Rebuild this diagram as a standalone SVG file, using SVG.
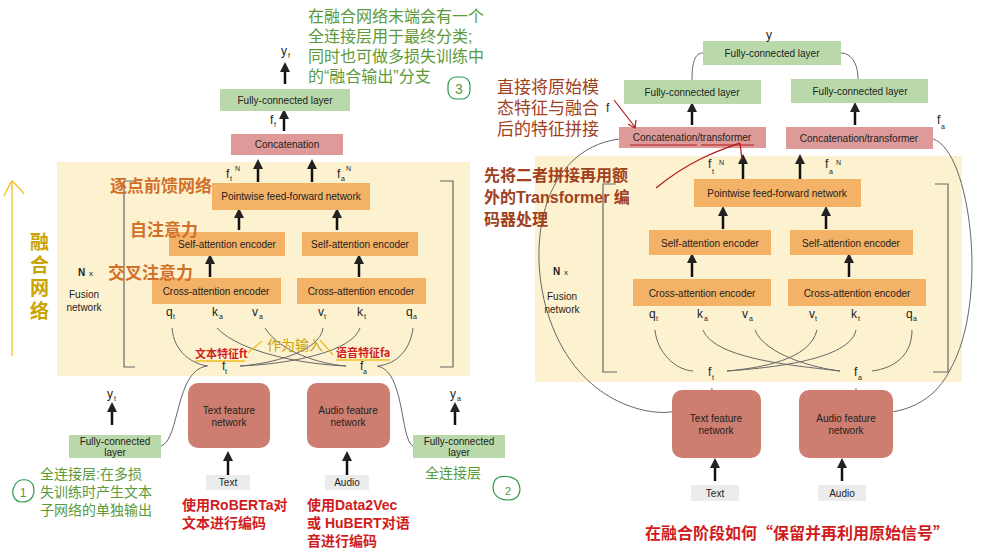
<svg xmlns="http://www.w3.org/2000/svg" width="1001" height="556" viewBox="0 0 1001 556">
<defs>
<marker id="ah" viewBox="0 0 6 6" refX="3" refY="3" markerWidth="4" markerHeight="4" orient="auto"><path d="M0,0L6,3L0,6z" fill="#222"/></marker>
<style>
text{font-family:"Liberation Sans","Noto Sans CJK SC",sans-serif;}
.lb{font-size:10px;fill:#222;text-anchor:middle}
.sm{font-size:12px;fill:#222}
.sub{font-size:7px;fill:#222}
.g{fill:#b9d9aa}.p{fill:#de9a98}.o{fill:#f4b266}.r{fill:#cd7e70}.gr{fill:#ececec}
.bg{fill:#fdf2d0}
.ar{stroke:#111;stroke-width:2.5;marker-end:url(#ah)}
.cv{fill:none;stroke:#666;stroke-width:1}
.br{fill:none;stroke:#666;stroke-width:1.2}
.cn{font-size:15px;font-family:"Noto Sans CJK SC",sans-serif}
.gn{fill:#5a9a3a}.org{fill:#d2702a}.yl{fill:#c9a400}.rd{fill:#d01c1c}.bn{fill:#a0401c}
</style>
</defs>
<rect width="1001" height="556" fill="#fff"/>
<rect class="bg" x="57" y="162" width="413" height="214"/>
<rect class="bg" x="535" y="156" width="427" height="226"/>

<g id="connectors">
<line class="ar" x1="285" y1="84" x2="285" y2="67"/>
<line class="ar" x1="284" y1="131" x2="284" y2="114"/>
<line class="ar" x1="258" y1="182" x2="258" y2="164"/>
<line class="ar" x1="312" y1="182" x2="312" y2="164"/>
<line class="ar" x1="239" y1="230" x2="239" y2="213"/>
<line class="ar" x1="337" y1="230" x2="337" y2="213"/>
<line class="ar" x1="210" y1="277" x2="210" y2="259"/>
<line class="ar" x1="359" y1="277" x2="359" y2="259"/>
<line class="ar" x1="228" y1="477" x2="228" y2="456"/>
<line class="ar" x1="347" y1="477" x2="347" y2="456"/>
<line class="ar" x1="112" y1="425" x2="112" y2="407"/>
<line class="ar" x1="455" y1="425" x2="455" y2="407"/>
<path class="cv" d="M172,328 C174,352 192,364 208,366"/>
<path class="cv" d="M217,328 C240,352 300,364 346,366"/>
<path class="cv" d="M265,328 C280,352 320,364 346,366"/>
<path class="cv" d="M323,328 C320,352 270,364 240,366"/>
<path class="cv" d="M360,328 C352,352 290,364 240,366"/>
<path class="cv" d="M413,328 C410,352 395,364 378,366"/>
<path class="cv" d="M207,366 C175,370 180,440 161,446"/>
<path class="cv" d="M377,366 C405,370 400,440 413,446"/>
<path class="br" d="M135,181 H124 V367 H135"/>
<path class="br" d="M440,181 H453 V367 H440"/>

<path class="cv" d="M703,53 C695,53 692,62 692,80"/>
<path class="cv" d="M841,53 C850,53 858,62 858,79"/>
<line class="ar" x1="692" y1="125" x2="692" y2="107"/>
<line class="ar" x1="855" y1="125" x2="855" y2="107"/>
<line class="ar" x1="743" y1="180" x2="743" y2="159"/>
<line class="ar" x1="800" y1="180" x2="800" y2="159"/>
<line class="ar" x1="723" y1="229" x2="723" y2="211"/>
<line class="ar" x1="826" y1="229" x2="826" y2="211"/>
<line class="ar" x1="692" y1="277" x2="692" y2="258"/>
<line class="ar" x1="849" y1="277" x2="849" y2="258"/>
<line class="ar" x1="715" y1="481" x2="715" y2="463"/>
<line class="ar" x1="842" y1="481" x2="842" y2="463"/>
<path class="cv" d="M655,330 C657,352 675,370 693,371"/>
<path class="cv" d="M703,330 C715,360 800,366 840,371"/>
<path class="cv" d="M755,330 C765,355 815,368 840,371"/>
<path class="cv" d="M817,330 C810,360 760,368 727,371"/>
<path class="cv" d="M856,330 C850,360 770,368 727,371"/>
<path class="cv" d="M912,330 C912,355 895,368 872,371"/>
<path class="cv" d="M619,139 C540,150 525,250 550,320 C580,405 650,415 670,412 C700,410 712,395 712,388"/>
<path class="cv" d="M933,139 C970,150 990,300 950,370 C930,410 890,415 870,412 C855,405 856,395 856,388"/>
<path class="br" d="M616,184 H603 V372 H617"/>
<path class="br" d="M935,184 H948 V372 H933"/>
</g>

<g id="left-nodes">
<g id="fc-top"><rect class="g" x="220" y="89" width="130" height="22"/><text class="lb" x="285" y="104">Fully-connected layer</text></g>
<g id="concat"><rect class="p" x="231" y="134" width="112" height="21"/><text class="lb" x="287" y="148">Concatenation</text></g>
<g id="pw"><rect class="o" x="212" y="183" width="158" height="27"/><text class="lb" x="291" y="200">Pointwise feed-forward network</text></g>
<g id="sa1"><rect class="o" x="169" y="232" width="116" height="24"/><text class="lb" x="227" y="248">Self-attention encoder</text></g>
<g id="sa2"><rect class="o" x="302" y="232" width="116" height="24"/><text class="lb" x="360" y="248">Self-attention encoder</text></g>
<g id="ca1"><rect class="o" x="152" y="278" width="129" height="26"/><text class="lb" x="216" y="295">Cross-attention encoder</text></g>
<g id="ca2"><rect class="o" x="297" y="278" width="129" height="26"/><text class="lb" x="361" y="295">Cross-attention encoder</text></g>
<g id="tfn"><rect class="r" x="188" y="383" width="82" height="65" rx="10"/><text class="lb" x="229" y="414">Text feature</text><text class="lb" x="229" y="426">network</text></g>
<g id="afn"><rect class="r" x="307" y="383" width="83" height="65" rx="10"/><text class="lb" x="348" y="414">Audio feature</text><text class="lb" x="348" y="426">network</text></g>
<g id="txt"><rect class="gr" x="206" y="475" width="44" height="15"/><text class="lb" x="228" y="486">Text</text></g>
<g id="aud"><rect class="gr" x="325" y="475" width="44" height="15"/><text class="lb" x="347" y="486">Audio</text></g>
<g id="fcl"><rect class="g" x="69" y="435" width="92" height="23"/><text class="lb" x="115" y="445">Fully-connected</text><text class="lb" x="115" y="456">layer</text></g>
<g id="fcr"><rect class="g" x="413" y="435" width="92" height="23"/><text class="lb" x="459" y="445">Fully-connected</text><text class="lb" x="459" y="456">layer</text></g>
</g>
<g id="left-labels">
<text class="sm" x="281" y="55">y</text><text class="sub" x="288" y="58">f</text>
<text class="sm" x="270" y="124">f</text><text class="sub" x="274" y="127">f</text>
<text class="sm" x="226" y="178">f</text><text class="sub" x="230" y="181">t</text><text class="sub" x="235" y="171">N</text>
<text class="sm" x="337" y="178">f</text><text class="sub" x="341" y="181">a</text><text class="sub" x="346" y="171">N</text>
<text class="sm" x="166" y="316">q</text><text class="sub" x="173" y="319">t</text>
<text class="sm" x="212" y="316">k</text><text class="sub" x="219" y="319">a</text>
<text class="sm" x="252" y="316">v</text><text class="sub" x="259" y="319">a</text>
<text class="sm" x="318" y="316">v</text><text class="sub" x="324" y="319">t</text>
<text class="sm" x="357" y="316">k</text><text class="sub" x="364" y="319">t</text>
<text class="sm" x="406" y="316">q</text><text class="sub" x="413" y="319">a</text>
<text class="sm" x="222" y="370">f</text><text class="sub" x="225" y="374">t</text>
<text class="sm" x="360" y="370">f</text><text class="sub" x="363" y="374">a</text>
<text class="sm" x="107" y="398">y</text><text class="sub" x="114" y="401">t</text>
<text class="sm" x="450" y="398">y</text><text class="sub" x="457" y="401">a</text>
<text x="78" y="276" style="font-size:10px;font-weight:bold;fill:#222">N</text><text x="89" y="276" style="font-size:8px;fill:#222">x</text>
<text class="lb" x="84" y="298">Fusion</text><text class="lb" x="84" y="311">network</text>
</g>

<g id="right-nodes">
<g id="r-fc"><rect class="g" x="703" y="41" width="138" height="24"/><text class="lb" x="772" y="57">Fully-connected layer</text></g>
<g id="r-fcl"><rect class="g" x="624" y="80" width="137" height="24"/><text class="lb" x="692" y="96">Fully-connected layer</text></g>
<g id="r-fcr"><rect class="g" x="791" y="79" width="137" height="24"/><text class="lb" x="860" y="95">Fully-connected layer</text></g>
<g id="r-cl"><rect class="p" x="619" y="127" width="147" height="21"/><text class="lb" x="692" y="141">Concatenation/transformer</text></g>
<g id="r-cr"><rect class="p" x="786" y="127" width="147" height="22"/><text class="lb" x="859" y="142">Concatenation/transformer</text></g>
<g id="r-pw"><rect class="o" x="694" y="179" width="167" height="28"/><text class="lb" x="777" y="197">Pointwise feed-forward network</text></g>
<g id="r-sa1"><rect class="o" x="649" y="230" width="122" height="25"/><text class="lb" x="710" y="247">Self-attention encoder</text></g>
<g id="r-sa2"><rect class="o" x="790" y="230" width="123" height="25"/><text class="lb" x="851" y="247">Self-attention encoder</text></g>
<g id="r-ca1"><rect class="o" x="633" y="279" width="138" height="27"/><text class="lb" x="702" y="297">Cross-attention encoder</text></g>
<g id="r-ca2"><rect class="o" x="788" y="279" width="138" height="27"/><text class="lb" x="857" y="297">Cross-attention encoder</text></g>
<g id="r-tfn"><rect class="r" x="672" y="390" width="89" height="68" rx="10"/><text class="lb" x="716" y="422">Text feature</text><text class="lb" x="716" y="434">network</text></g>
<g id="r-afn"><rect class="r" x="799" y="390" width="94" height="68" rx="10"/><text class="lb" x="846" y="422">Audio feature</text><text class="lb" x="846" y="434">network</text></g>
<g id="r-txt"><rect class="gr" x="691" y="485" width="48" height="16"/><text class="lb" x="715" y="497">Text</text></g>
<g id="r-aud"><rect class="gr" x="818" y="485" width="48" height="16"/><text class="lb" x="842" y="497">Audio</text></g>
</g>
<g id="right-labels">
<text class="sm" x="766" y="39">y</text>
<text class="sm" x="937" y="124">f</text><text class="sub" x="941" y="129">a</text>
<text class="sm" x="606" y="112">f</text>
<text class="sm" x="708" y="168">f</text><text class="sub" x="712" y="174">t</text><text class="sub" x="719" y="165">N</text>
<text class="sm" x="825" y="168">f</text><text class="sub" x="829" y="174">a</text><text class="sub" x="836" y="165">N</text>
<text class="sm" x="649" y="318">q</text><text class="sub" x="656" y="321">t</text>
<text class="sm" x="697" y="318">k</text><text class="sub" x="704" y="321">a</text>
<text class="sm" x="742" y="318">v</text><text class="sub" x="749" y="321">a</text>
<text class="sm" x="809" y="318">v</text><text class="sub" x="815" y="321">t</text>
<text class="sm" x="851" y="318">k</text><text class="sub" x="858" y="321">t</text>
<text class="sm" x="906" y="318">q</text><text class="sub" x="913" y="321">a</text>
<text class="sm" x="708" y="376">f</text><text class="sub" x="712" y="380">t</text>
<text class="sm" x="854" y="376">f</text><text class="sub" x="858" y="380">a</text>
<text x="553" y="275" style="font-size:10px;font-weight:bold;fill:#222">N</text><text x="564" y="275" style="font-size:8px;fill:#222">x</text>
<text class="lb" x="562" y="300">Fusion</text><text class="lb" x="562" y="313">network</text>
</g>

<g id="annotations">
<g class="cn gn" style="font-size:16px">
<text x="308" y="22">在融合网络末端会有一个</text>
<text x="308" y="42">全连接层用于最终分类;</text>
<text x="308" y="62">同时也可做多损失训练中</text>
<text x="308" y="82">的“融合输出”分支</text>
</g>
<rect x="448" y="77" width="22" height="22" rx="8" fill="none" stroke="#2a9a4a" stroke-width="1.2"/>
<text x="459" y="94" class="gn" style="font-size:14px;text-anchor:middle">3</text>
<g class="cn org" style="font-size:17px;font-weight:bold">
<text x="110" y="192">逐点前馈网络</text>
<text x="130" y="236">自注意力</text>
<text x="108" y="279">交叉注意力</text>
</g>
<g class="cn yl" style="font-size:19px;font-weight:bold">
<text x="30" y="249">融</text><text x="30" y="272">合</text><text x="30" y="295">网</text><text x="30" y="318">络</text>
</g>
<path d="M12,356 V182 M4,196 C8,188 10,183 12,181 C15,184 20,188 24,194" fill="none" stroke="#f0c020" stroke-width="1.3"/>
<text x="267" y="350" class="cn yl" style="font-size:14px">作为输入</text>
<text x="195" y="358" class="cn rd" style="font-size:11px;font-weight:bold">文本特征ft</text>
<text x="336" y="357" class="cn rd" style="font-size:11px;font-weight:bold">语音特征fa</text>
<path d="M195,361 H245 M336,360 H390 M248,353 L262,341 M320,340 L333,355" fill="none" stroke="#f0c020" stroke-width="1.3"/>
<g class="cn gn" style="font-size:14px">
<text x="40" y="479">全连接层:在多损</text>
<text x="40" y="497">失训练时产生文本</text>
<text x="40" y="515">子网络的单独输出</text>
<text x="425" y="478">全连接层</text>
</g>
<path d="M15,485 C10,493 14,502 22,502 C32,502 36,494 33,485 C30,478 18,478 15,485" fill="none" stroke="#2a9a4a" stroke-width="1.2"/>
<text x="23" y="497" class="gn" style="font-size:12px;text-anchor:middle">1</text>
<path d="M495,480 C490,490 495,500 508,500 C520,500 522,490 518,482 C514,476 500,474 495,480" fill="none" stroke="#2a9a4a" stroke-width="1.2"/>
<text x="508" y="495" class="gn" style="font-size:11px;text-anchor:middle">2</text>
<g class="cn rd" style="font-size:14px;font-weight:bold">
<text x="182" y="510">使用RoBERTa对</text>
<text x="182" y="528">文本进行编码</text>
<text x="307" y="510">使用Data2Vec</text>
<text x="307" y="528">或 HuBERT对语</text>
<text x="307" y="546">音进行编码</text>
</g>
<text x="645" y="539" class="cn rd" style="font-size:16px;font-weight:bold">在融合阶段如何“保留并再利用原始信号”</text>
<g class="cn bn" style="font-size:17px">
<text x="497" y="93">直接将原始模</text>
<text x="497" y="114">态特征与融合</text>
<text x="497" y="135">后的特征拼接</text>
</g>
<g class="cn bn" style="font-size:16px;font-weight:bold">
<text x="484" y="181">先将二者拼接再用额</text>
<text x="484" y="203">外的Transformer 编</text>
<text x="484" y="225">码器处理</text>
</g>
<g fill="none" stroke="#b01818" stroke-width="1.2">
<path d="M614,100 L635,127 M628,124 L635,128 L636,120"/>
<path d="M630,145 H697 M701,145 H754"/>
<path d="M656,188 C690,160 720,150 740,143 M740,143 L742,160"/>
</g>
</g>
</svg>
